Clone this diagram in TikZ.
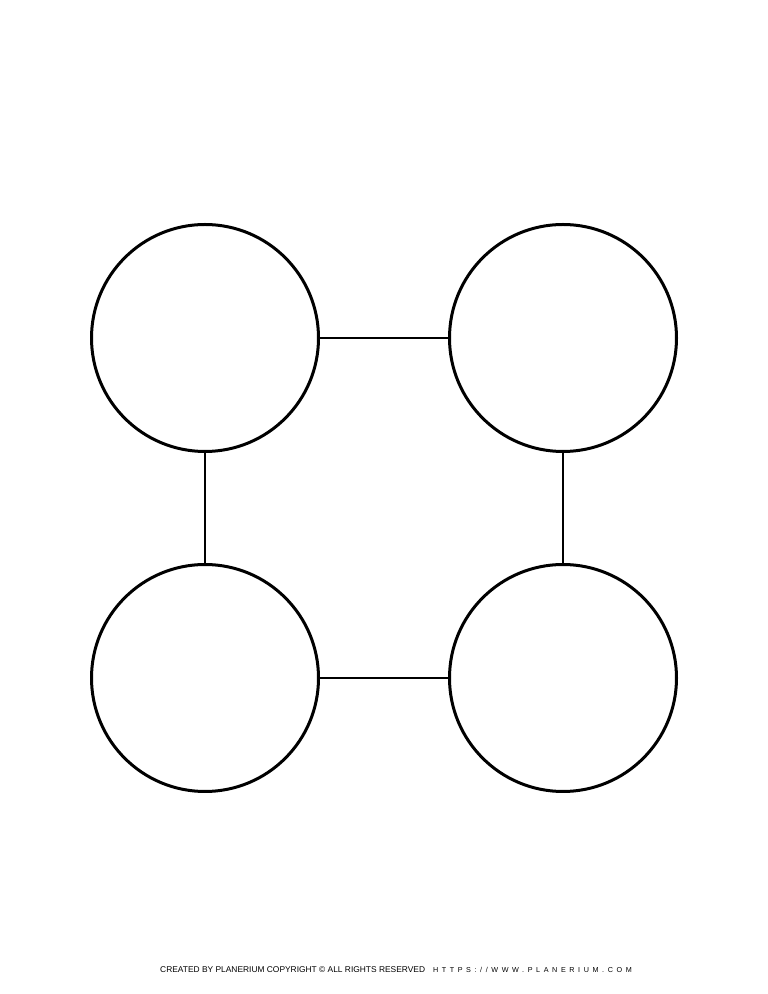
\documentclass[tikz,border=0pt]{standalone}
\usepackage{fontspec}
\setmainfont{Liberation Sans}
\newfontfamily\urlfont[LetterSpace=50]{Liberation Sans}
\usetikzlibrary{positioning}

\tikzset{
	bubble/.style={draw, circle, line width=3pt, minimum size=227pt, inner sep=0pt},
	link/.style={line width=2.8pt}
}

\begin{document}
\begin{tikzpicture}[x=1pt, y=1pt]
		\useasboundingbox (0, 0) rectangle (768, 994);
		\node[bubble] (tl) at (205, 656) {};
		\node[bubble] (tr) at (563, 656) {};
		\node[bubble] (bl) at (205, 316) {};
		\node[bubble] (br) at (563, 316) {};
		\draw[link] (tl) -- (tr);
		\draw[link] (bl) -- (br);
		\draw[link] (tl) -- (bl);
		\draw[link] (tr) -- (br);
		\node[font=\fontsize{8.4}{9}\selectfont, anchor=west, inner sep=0pt] (credit) at (160, 24) {CREATED BY PLANERIUM COPYRIGHT \textcopyright{} ALL RIGHTS RESERVED};
		\node[font=\fontsize{7.2}{8}\selectfont\urlfont, anchor=east, inner sep=0pt] (site) at (632, 24) {HTTPS://WWW.PLANERIUM.COM};
	\end{tikzpicture}
\end{document}
